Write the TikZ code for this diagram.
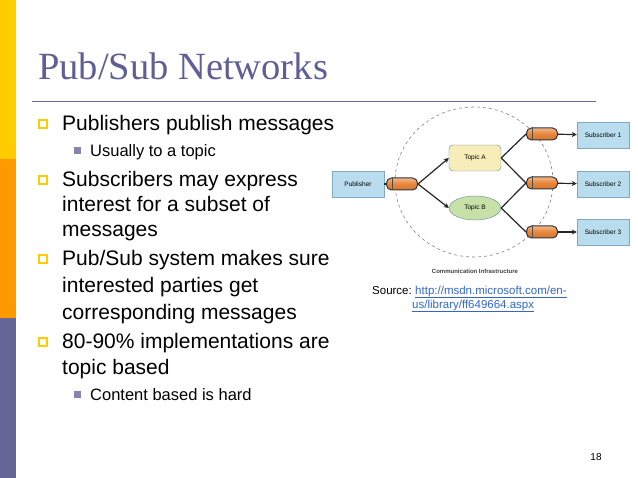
\documentclass[tikz,border=0pt]{standalone}
\usepackage{fontspec}
\setmainfont{Liberation Sans}
\newfontfamily\titlefont{Liberation Serif}
\usetikzlibrary{shapes.geometric,arrows.meta}
\definecolor{barY}{HTML}{FFCC00}
\definecolor{barO}{HTML}{FF9900}
\definecolor{barP}{HTML}{666699}
\definecolor{titleC}{HTML}{5F5F95}
\definecolor{boxB}{HTML}{B9DDEE}
\definecolor{boxBd}{HTML}{7FA9C0}
\definecolor{topA}{HTML}{F7EDB8}
\definecolor{topB}{HTML}{C6E0A8}
\definecolor{pipeO}{HTML}{E8853A}
\definecolor{linkC}{HTML}{3366CC}
\tikzset{
 body/.style={anchor=base west,font=\fontsize{21}{22}\selectfont,inner sep=0},
 sub/.style={anchor=base west,font=\fontsize{16.5}{18}\selectfont,inner sep=0},
 mainbul/.style={draw=barY,line width=1.6pt,fill=white,minimum size=8pt,inner sep=0},
 subbul/.style={fill=barP!80,minimum size=7pt,inner sep=0},
 box/.style={draw=boxBd,fill=boxB,minimum width=52pt,minimum height=26pt,font=\fontsize{6.5}{7}\selectfont,inner sep=0},
 pipe/.style={draw=black!80,line width=1pt,rounded corners=5pt,minimum width=31pt,minimum height=12pt,inner sep=0,top color=pipeO!60,bottom color=pipeO!90!black,middle color=pipeO},
 conn/.style={line width=1.2pt,black!85},
 arr/.style={conn,-{Stealth[length=5pt,width=5pt]}},
 src/.style={font=\fontsize{11.5}{13}\selectfont,inner sep=0,anchor=base west},
}
\begin{document}
\begin{tikzpicture}[x=1pt,y=-1pt]
\useasboundingbox (0,0) rectangle (638,478);
\fill[white] (0,0) rectangle (638,478);
\fill[barY] (0,0) rectangle (16,159);
\fill[barO] (0,159) rectangle (16,318);
\fill[barP] (0,318) rectangle (16,478);
\node[anchor=base west,inner sep=0,text=titleC,font=\titlefont\fontsize{38.5}{40}\selectfont] (title) at (38,80) {Pub/Sub Networks};
\draw[barP,line width=0.8pt] (32,101) -- (596,101);
% bullets
\node[mainbul] (b1) at (43,124) {};
\node[body] (t1) at (62,131) {Publishers publish messages};
\node[subbul] (s1) at (77,151) {};
\node[sub] (u1) at (90,157) {Usually to a topic};
\node[mainbul] (b2) at (43,180) {};
\node[body] (t2) at (62,187) {Subscribers may express};
\node[body] (t2b) at (62,212) {interest for a subset of};
\node[body] (t2c) at (62,237) {messages};
\node[mainbul] (b3) at (43,259) {};
\node[body] (t3) at (62,266) {Pub/Sub system makes sure};
\node[body] (t3b) at (62,293) {interested parties get};
\node[body] (t3c) at (62,320) {corresponding messages};
\node[mainbul] (b4) at (43,342) {};
\node[body] (t4) at (62,349) {80-90\% implementations are};
\node[body] (t4b) at (62,375) {topic based};
\node[subbul] (s2) at (77,395) {};
\node[sub] (u2) at (90,401) {Content based is hard};
% diagram
\draw[gray,dashed,line width=0.6pt] (474,182) ellipse (79 and 75);
\node[box] (pub) at (358,184) {Publisher};
\node[pipe] (pp) at (402,184) {};
\node[draw=boxBd!80!black,fill=topA,rounded corners=4pt,minimum width=52pt,minimum height=26pt,font=\fontsize{6.5}{7}\selectfont,inner sep=0] (ta) at (475,158) {Topic A};
\node[ellipse,draw=boxBd!80!black,fill=topB,minimum width=52pt,minimum height=24pt,font=\fontsize{6.5}{7}\selectfont,inner sep=0] (tb) at (475,208) {Topic B};
\node[pipe] (p1) at (542,134) {};
\node[pipe] (p2) at (542,183) {};
\node[pipe] (p3) at (542,232) {};
\node[box] (s1b) at (603,135) {Subscriber 1};
\node[box] (s2b) at (603,184) {Subscriber 2};
\node[box] (s3b) at (603,232) {Subscriber 3};
\foreach \p in {pp,p1,p2,p3}{\draw[black!70,line width=0.6pt] ([xshift=6pt]\p.north west) -- ([xshift=6pt]\p.south west);}
\draw[conn] (pub) -- (pp);
\draw[arr] (pp.east) -- (ta.west);
\draw[arr] (pp.east) -- (tb.west);
\draw[conn] (ta.east) -- (p1.west);
\draw[conn] (ta.east) -- (p2.west);
\draw[conn] (tb.east) -- (p2.west);
\draw[conn] (tb.east) -- (p3.west);
\draw[arr] (p1) -- (s1b);
\draw[arr] (p2) -- (s2b);
\draw[arr] (p3) -- (s3b);
\node[font=\bfseries\fontsize{6}{7}\selectfont,text=black!75] (ci) at (475,271) {Communication Infrastructure};
\node[src] (srcl) at (372,295) {Source:};
\node[src,text=linkC] (lk1) at ([xshift=3pt]srcl.base east) {http://msdn.microsoft.com/en-};
\node[src,text=linkC] (lk2) at (412,309) {us/library/ff649664.aspx};
\draw[linkC,line width=0.6pt] (lk1.south west) -- (lk1.south east);
\draw[linkC,line width=0.6pt] (lk2.south west) -- (lk2.south east);
\node[font=\fontsize{10}{12}\selectfont,inner sep=0] (pg) at (596,457) {18};
\end{tikzpicture}
\end{document}
